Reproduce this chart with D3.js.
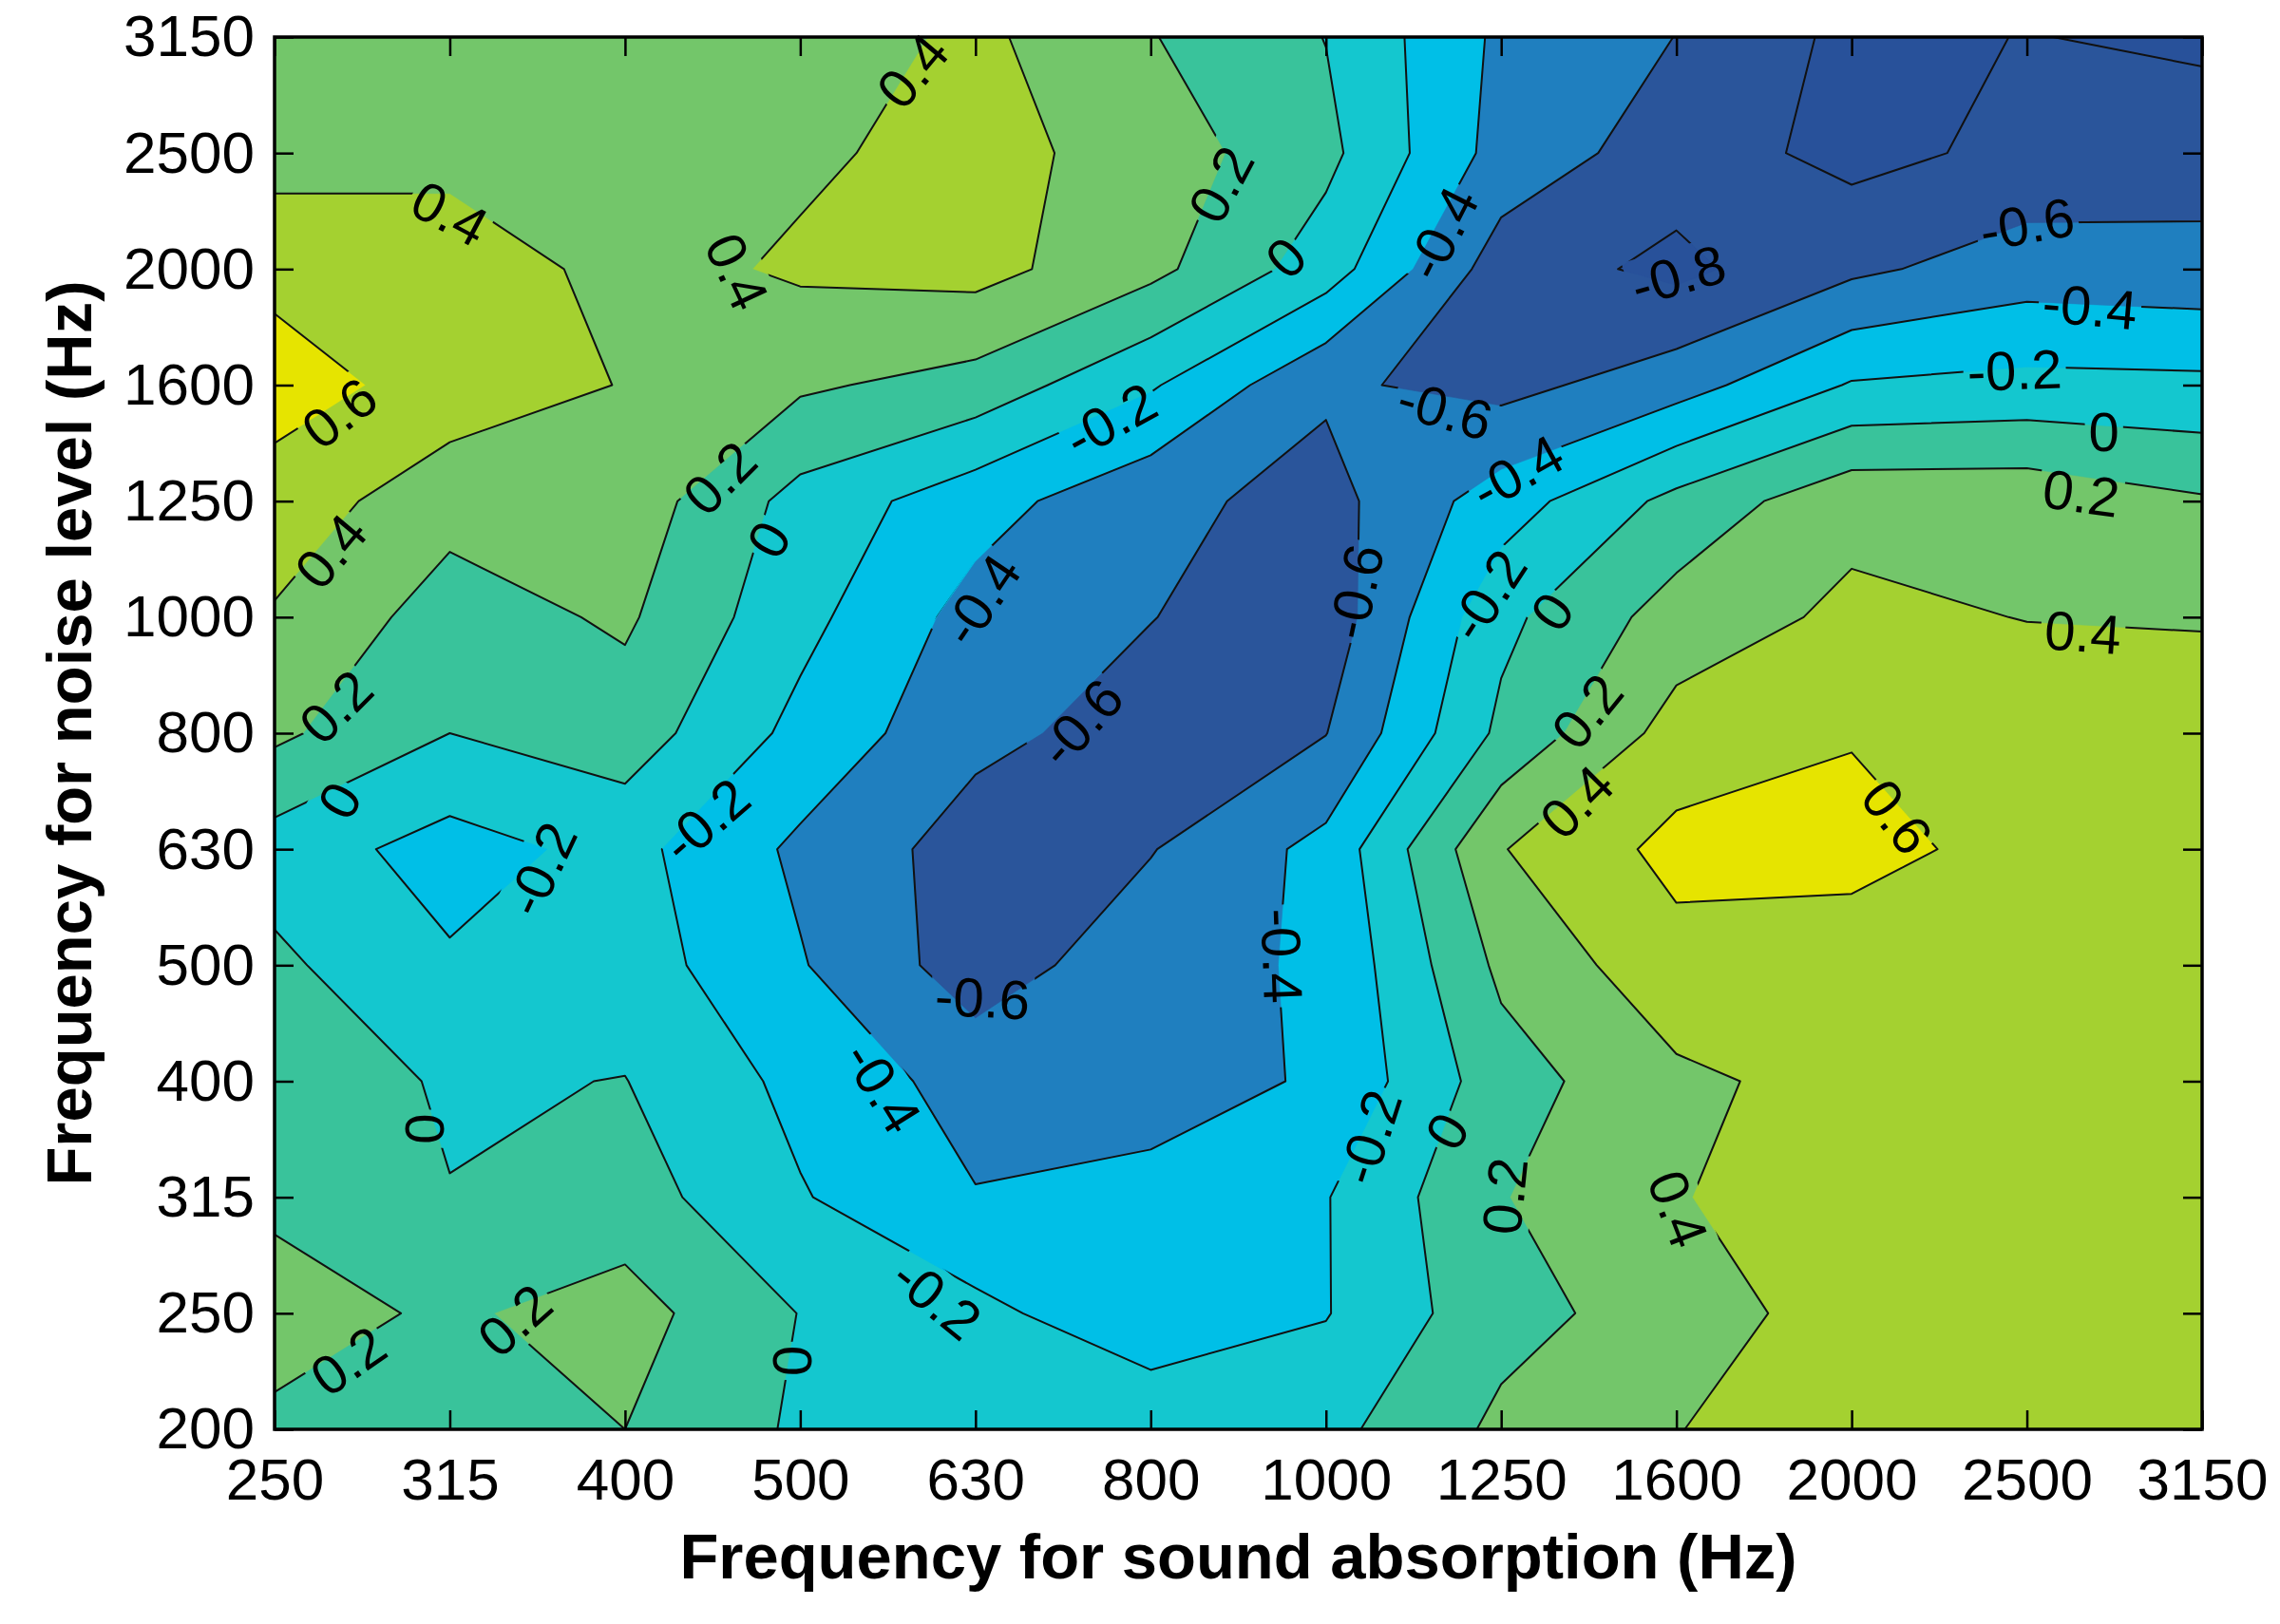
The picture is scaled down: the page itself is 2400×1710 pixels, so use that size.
<!DOCTYPE html>
<html>
<head>
<meta charset="utf-8">
<script src="https://cdn.jsdelivr.net/npm/d3@7"></script>
<style>
  html, body { margin: 0; padding: 0; background: #fff; }
  svg { display: block; font-family: "Liberation Sans", Arial, Helvetica, sans-serif; }
</style>
</head>
<body>
<svg id="chart" width="2400" height="1710"></svg>
<script>
// Frequency bands (Hz)
var absorbFreq = ["250", "315", "400", "500", "630", "800", "1000", "1250", "1600", "2000", "2500", "3150"];
var noiseFreq  = ["200", "250", "315", "400", "500", "630", "800", "1000", "1250", "1600", "2000", "2500", "3150"];

// Values, one row per noise level band (columns follow absorbFreq)
var row3150 = [0.32, 0.32, 0.30, 0.28, 0.445, 0.21, -0.005, -0.44, -0.603, -0.852, -0.794, -0.834];
var row2500 = [0.32, 0.32, 0.34, 0.365, 0.474, 0.31, 0.053, -0.476, -0.70, -0.86, -0.75, -0.70];
var row2000 = [0.55, 0.55, 0.32, 0.43, 0.469, 0.255, -0.103, -0.70, -0.85, -0.64, -0.50, -0.53];
var row1600 = [0.68, 0.526, 0.39, 0.23, 0.124, -0.177, -0.57, -0.664, -0.487, -0.183, -0.144, -0.155];
var row1250 = [0.52, 0.27, 0.315, -0.069, -0.32, -0.546, -0.67, -0.30, 0.06, 0.34, 0.336, 0.222];
var row1000 = [0.38, 0.11, 0.23, -0.14, -0.473, -0.595, -0.72, -0.05, 0.286, 0.443, 0.395, 0.38];
var row800  = [0.24, 0.0, 0.105, -0.258, -0.55, -0.68, -0.605, 0.045, 0.48, 0.58, 0.52, 0.54];
var row630  = [-0.09, -0.28, -0.136, -0.44, -0.69, -0.61, -0.34, 0.39, 0.66, 0.70, 0.496, 0.52];
var row500  = [0.04, -0.175, -0.10, -0.385, -0.70, -0.48, -0.37, 0.244, 0.53, 0.44, 0.50, 0.52];
var row400  = [0.12, -0.023, 0.005, -0.255, -0.48, -0.50, -0.37, 0.11, 0.36, 0.47, 0.50, 0.51];
var row315  = [0.167, 0.006, 0.09, -0.185, -0.39, -0.33, -0.21, 0.19, 0.39, 0.50, 0.51, 0.50];
var row250  = [0.27, 0.173, 0.28, -0.006, -0.147, -0.343, -0.21, 0.134, 0.29, 0.50, 0.52, 0.50];
var row200  = [0.167, 0.12, 0.20, -0.03, -0.10, -0.05, -0.06, 0.242, 0.395, 0.50, 0.50, 0.51];

// contour levels, highest first
var levels = [0.6, 0.4, 0.2, 0, -0.2, -0.4, -0.6, -0.8];

// inline contour labels
var labelText  = ["0.4","0.4","0.4","0.2","0","-0.4","-0.8","-0.6","-0.4","-0.2","0","0.2","0.4",
                  "0.6","0.4","0.2","0","-0.2","0.2","0","-0.2","-0.2","-0.4","-0.6","-0.6","-0.6",
                  "-0.4","-0.2","0","0.2","0.4","0.6","-0.6","-0.4","-0.4","-0.2","0","0.2","0.4",
                  "0","-0.2","0","0.2","0.2"];

// Layout
var margin = {top: 39, right: 82, bottom: 205, left: 289},
    width = 2400 - margin.left - margin.right,
    height = 1710 - margin.top - margin.bottom;

// Label placement (column index, row index from bottom, rotation)
var labelCol = [3.64, 1.00, 2.64, 5.40, 5.77, 6.66, 8.01, 10.0, 10.36, 9.93, 10.44, 10.31, 10.32,
                0.37, 0.32, 2.54, 2.82, 4.77, 0.35, 0.37, 1.52, 2.46, 4.03, 4.60, 6.17, 6.68,
                7.09, 6.92, 7.29, 7.49, 7.43, 9.26, 4.04, 3.47, 5.75, 6.25, 6.69, 7.02, 8.01,
                0.86, 3.78, 2.96, 0.42, 1.37];
var labelRow = [11.71, 10.48, 9.98, 10.73, 10.10, 10.31, 9.95, 10.39, 9.68, 9.13, 8.60, 8.07, 6.87,
                8.76, 7.57, 8.20, 7.67, 8.70, 6.23, 5.42, 4.83, 5.25, 7.15, 6.09, 7.22, 8.79,
                8.25, 7.19, 7.05, 6.19, 5.41, 5.28, 3.72, 2.95, 4.08, 2.52, 2.57, 2.01, 1.90,
                2.59, 1.13, 0.59, 0.59, 0.94];
var labelAngle = [-50, 28, 65, -62, -45, -63, -16, -10, 5, -2, 0, 8, 4,
                  -38, -50, -45, -60, -29, -45, -60, -65, -41, -56, -48, -78, 16,
                  -29, -57, -55, -51, -45, 52, 3, 58, 88, -72, -60, -84, 69,
                  90, 39, 90, -35, -42];

// band colours for the area at or below each level; above the top level is yellow
var bandColor = ["#a4d130", "#73c66a", "#39c39b", "#14c7cf", "#00bfe7", "#1f7fbf", "#2a559b", "#28519a"];
var topColor = "#e6e400";

var rows = [row3150, row2500, row2000, row1600, row1250, row1000, row800, row630, row500, row400, row315, row250, row200];
var nx = absorbFreq.length, ny = noiseFreq.length;

// negated grid so that d3 keeps the higher corners joined at saddle cells
var neg = [];
rows.forEach(function(r) { r.forEach(function(v) { neg.push(-v); }); });

var contours = d3.contours()
    .size([nx, ny])
    .thresholds(levels.map(function(t) { return -t; }))(neg);

// scales
var xIdx = d3.scaleLinear().domain([0, nx - 1]).range([0, width]);
var yIdx = d3.scaleLinear().domain([0, ny - 1]).range([height, 0]);
var xPt = d3.scalePoint().domain(absorbFreq).range([0, width]);
var yPt = d3.scalePoint().domain(noiseFreq).range([height, 0]);

var proj = d3.geoTransform({
  point: function(x, y) {
    var ix = Math.max(0, Math.min(nx - 1, x - 0.5));
    var iy = Math.max(0, Math.min(ny - 1, y - 0.5));
    this.stream.point(xIdx(ix), yIdx(ny - 1 - iy));
  }
});
var path = d3.geoPath(proj);

var svg = d3.select("#chart");
var defs = svg.append("defs");
var g = svg.append("g").attr("transform", "translate(" + margin.left + "," + margin.top + ")");

// filled bands
g.append("rect").attr("width", width).attr("height", height).attr("fill", topColor);
g.append("g").selectAll("path")
  .data(contours)
  .enter().append("path")
    .attr("d", path)
    .attr("fill", function(d, i) { return bandColor[i]; })
    .attr("fill-rule", "evenodd")
    .attr("stroke", function(d, i) { return bandColor[i]; })
    .attr("stroke-width", 0.6);

// contour lines, cut where labels sit
var mask = defs.append("mask").attr("id", "labelcut")
    .attr("maskUnits", "userSpaceOnUse")
    .attr("x", -10).attr("y", -10).attr("width", width + 20).attr("height", height + 20);
mask.append("rect").attr("x", -10).attr("y", -10).attr("width", width + 20).attr("height", height + 20).attr("fill", "#fff");

g.append("g").attr("mask", "url(#labelcut)").selectAll("path")
  .data(contours)
  .enter().append("path")
    .attr("d", path)
    .attr("fill", "none")
    .attr("stroke", "#111")
    .attr("stroke-width", 2)
    .attr("stroke-linejoin", "round");

// labels
var labels = g.append("g").selectAll("text")
  .data(labelText)
  .enter().append("text")
    .attr("transform", function(d, i) {
      return "translate(" + xIdx(labelCol[i]) + "," + yIdx(labelRow[i]) + ") rotate(" + labelAngle[i] + ")";
    })
    .attr("text-anchor", "middle")
    .attr("dominant-baseline", "central")
    .style("font-size", "58px")
    .attr("fill", "#000")
    .text(function(d) { return d; });

labels.each(function(d, i) {
  var bb = this.getBBox();
  mask.append("rect")
    .attr("transform", d3.select(this).attr("transform"))
    .attr("x", bb.x - 4).attr("y", bb.y + 4)
    .attr("width", bb.width + 8).attr("height", bb.height - 8)
    .attr("fill", "#000");
});

// axes
function styleAxis(sel) {
  sel.select(".domain").remove();
  sel.attr("font-size", null).attr("font-family", null);
  sel.selectAll(".tick line").attr("stroke", "#000").attr("stroke-width", 2.5);
  sel.selectAll(".tick text").attr("fill", "#000").style("font-size", "62px");
}

g.append("g")
  .call(d3.axisLeft(yPt).tickSizeInner(-20).tickSizeOuter(0).tickPadding(21))
  .call(styleAxis);

g.append("g")
  .attr("transform", "translate(0," + height + ")")
  .call(d3.axisBottom(xPt).tickSizeInner(-20).tickSizeOuter(0).tickPadding(30))
  .call(styleAxis);

g.append("g")
  .attr("transform", "translate(" + width + ",0)")
  .call(d3.axisRight(yPt).tickSizeInner(-20).tickSizeOuter(0).tickFormat(""))
  .call(styleAxis);

g.append("g")
  .call(d3.axisTop(xPt).tickSizeInner(-20).tickSizeOuter(0).tickFormat(""))
  .call(styleAxis);

// frame
g.append("rect")
  .attr("width", width).attr("height", height)
  .attr("fill", "none").attr("stroke", "#000").attr("stroke-width", 3.5);

// axis titles
svg.append("text")
  .attr("x", margin.left + width / 2)
  .attr("y", 1662)
  .attr("text-anchor", "middle")
  .style("font-size", "67px")
  .style("font-weight", "bold")
  .text("Frequency for sound absorption (Hz)");

svg.append("text")
  .attr("transform", "translate(96," + (margin.top + height / 2) + ") rotate(-90)")
  .attr("text-anchor", "middle")
  .style("font-size", "67px")
  .style("font-weight", "bold")
  .text("Frequency for noise level (Hz)");
</script>
</body>
</html>
